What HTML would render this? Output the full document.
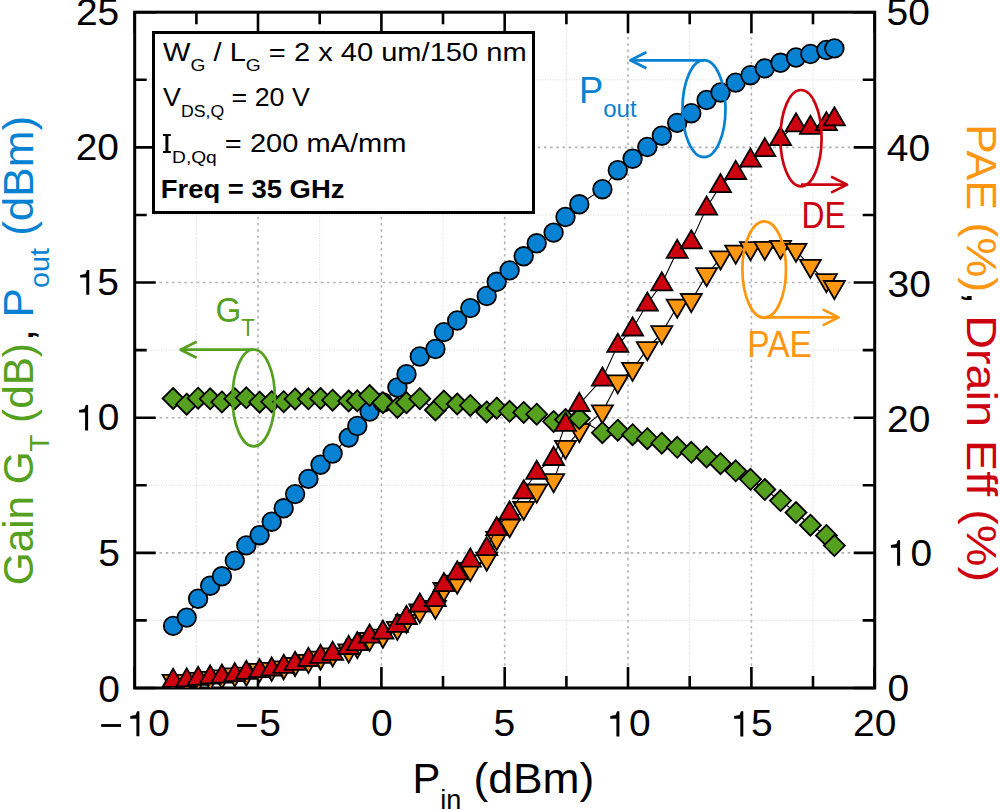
<!DOCTYPE html>
<html><head><meta charset="utf-8"><title>Power sweep</title>
<style>html,body{margin:0;padding:0;background:#fff;}svg{display:block;}text{font-family:"Liberation Sans",sans-serif;}</style></head><body>
<svg width="1000" height="810" viewBox="0 0 1000 810">
<rect width="1000" height="810" fill="#fff"/>
<style>.gM{stroke:#b2b2b2;stroke-width:1.6;stroke-dasharray:2.6 3.6;}.gm{stroke:#dadada;stroke-width:1;stroke-dasharray:1 1.4;}</style>
<g><line x1="196.4" y1="12.2" x2="196.4" y2="688.0" class="gm"/><line x1="258.0" y1="12.2" x2="258.0" y2="688.0" class="gM"/><line x1="319.7" y1="12.2" x2="319.7" y2="688.0" class="gm"/><line x1="381.4" y1="12.2" x2="381.4" y2="688.0" class="gM"/><line x1="443.0" y1="12.2" x2="443.0" y2="688.0" class="gm"/><line x1="504.7" y1="12.2" x2="504.7" y2="688.0" class="gM"/><line x1="566.4" y1="12.2" x2="566.4" y2="688.0" class="gm"/><line x1="628.0" y1="12.2" x2="628.0" y2="688.0" class="gM"/><line x1="689.7" y1="12.2" x2="689.7" y2="688.0" class="gm"/><line x1="751.4" y1="12.2" x2="751.4" y2="688.0" class="gM"/><line x1="813.0" y1="12.2" x2="813.0" y2="688.0" class="gm"/><line x1="134.7" y1="620.4" x2="874.7" y2="620.4" class="gm"/><line x1="134.7" y1="552.9" x2="874.7" y2="552.9" class="gM"/><line x1="134.7" y1="485.3" x2="874.7" y2="485.3" class="gm"/><line x1="134.7" y1="417.7" x2="874.7" y2="417.7" class="gM"/><line x1="134.7" y1="350.1" x2="874.7" y2="350.1" class="gm"/><line x1="134.7" y1="282.5" x2="874.7" y2="282.5" class="gM"/><line x1="134.7" y1="215.0" x2="874.7" y2="215.0" class="gm"/><line x1="134.7" y1="147.4" x2="874.7" y2="147.4" class="gM"/><line x1="134.7" y1="79.8" x2="874.7" y2="79.8" class="gm"/></g>
<path d="M134.7 688.0V667.0M134.7 12.2V33.2M196.4 688.0V676.0M196.4 12.2V24.2M258.0 688.0V667.0M258.0 12.2V33.2M319.7 688.0V676.0M319.7 12.2V24.2M381.4 688.0V667.0M381.4 12.2V33.2M443.0 688.0V676.0M443.0 12.2V24.2M504.7 688.0V667.0M504.7 12.2V33.2M566.4 688.0V676.0M566.4 12.2V24.2M628.0 688.0V667.0M628.0 12.2V33.2M689.7 688.0V676.0M689.7 12.2V24.2M751.4 688.0V667.0M751.4 12.2V33.2M813.0 688.0V676.0M813.0 12.2V24.2M874.7 688.0V667.0M874.7 12.2V33.2M134.7 688.0H155.7M874.7 688.0H853.7M134.7 620.4H146.7M874.7 620.4H862.7M134.7 552.9H155.7M874.7 552.9H853.7M134.7 485.3H146.7M874.7 485.3H862.7M134.7 417.7H155.7M874.7 417.7H853.7M134.7 350.1H146.7M874.7 350.1H862.7M134.7 282.5H155.7M874.7 282.5H853.7M134.7 215.0H146.7M874.7 215.0H862.7M134.7 147.4H155.7M874.7 147.4H853.7M134.7 79.8H146.7M874.7 79.8H862.7M134.7 12.2H155.7M874.7 12.2H853.7" stroke="#000" stroke-width="2.6" fill="none"/>
<rect x="134.7" y="12.2" width="740.0" height="675.8" fill="none" stroke="#000" stroke-width="3"/>
<defs><clipPath id="pc"><rect x="134.7" y="12.2" width="740.0" height="675.8"/></clipPath></defs>
<g clip-path="url(#pc)">
<polyline points="173.1,625.9 186.7,617.6 198.1,598.7 210.2,585.7 221.9,576.3 234.8,560.6 246.3,545.4 259.6,535.2 271.7,521.7 283.7,508.3 295.1,494.1 308.4,478.9 320.5,464.7 332.6,453.5 348.7,437.6 357.3,426.0 369.6,411.5 382.9,402.5 397.4,387.5 406.5,374.2 419.8,356.5 435.4,349.0 443.9,332.1 457.2,320.5 470.3,308.1 486.7,296.0 496.7,281.8 509.6,270.4 523.7,256.3 536.7,243.3 553.6,232.6 565.5,217.0 579.3,204.3 602.4,189.2 617.8,170.2 632.6,158.7 647.3,147.0 661.8,135.7 677.2,122.9 691.3,113.2 706.6,100.0 720.5,92.5 735.7,82.6 750.5,75.2 764.8,68.4 780.5,62.8 796.0,57.5 810.4,54.0 826.4,50.0 834.4,48.4" fill="none" stroke="#000" stroke-width="1.1"/>
<g fill="#0782d2" stroke="#000" stroke-width="1.8"><circle cx="173.1" cy="625.9" r="9.3"/><circle cx="186.7" cy="617.6" r="9.3"/><circle cx="198.1" cy="598.7" r="9.3"/><circle cx="210.2" cy="585.7" r="9.3"/><circle cx="221.9" cy="576.3" r="9.3"/><circle cx="234.8" cy="560.6" r="9.3"/><circle cx="246.3" cy="545.4" r="9.3"/><circle cx="259.6" cy="535.2" r="9.3"/><circle cx="271.7" cy="521.7" r="9.3"/><circle cx="283.7" cy="508.3" r="9.3"/><circle cx="295.1" cy="494.1" r="9.3"/><circle cx="308.4" cy="478.9" r="9.3"/><circle cx="320.5" cy="464.7" r="9.3"/><circle cx="332.6" cy="453.5" r="9.3"/><circle cx="348.7" cy="437.6" r="9.3"/><circle cx="357.3" cy="426.0" r="9.3"/><circle cx="369.6" cy="411.5" r="9.3"/><circle cx="382.9" cy="402.5" r="9.3"/><circle cx="397.4" cy="387.5" r="9.3"/><circle cx="406.5" cy="374.2" r="9.3"/><circle cx="419.8" cy="356.5" r="9.3"/><circle cx="435.4" cy="349.0" r="9.3"/><circle cx="443.9" cy="332.1" r="9.3"/><circle cx="457.2" cy="320.5" r="9.3"/><circle cx="470.3" cy="308.1" r="9.3"/><circle cx="486.7" cy="296.0" r="9.3"/><circle cx="496.7" cy="281.8" r="9.3"/><circle cx="509.6" cy="270.4" r="9.3"/><circle cx="523.7" cy="256.3" r="9.3"/><circle cx="536.7" cy="243.3" r="9.3"/><circle cx="553.6" cy="232.6" r="9.3"/><circle cx="565.5" cy="217.0" r="9.3"/><circle cx="579.3" cy="204.3" r="9.3"/><circle cx="602.4" cy="189.2" r="9.3"/><circle cx="617.8" cy="170.2" r="9.3"/><circle cx="632.6" cy="158.7" r="9.3"/><circle cx="647.3" cy="147.0" r="9.3"/><circle cx="661.8" cy="135.7" r="9.3"/><circle cx="677.2" cy="122.9" r="9.3"/><circle cx="691.3" cy="113.2" r="9.3"/><circle cx="706.6" cy="100.0" r="9.3"/><circle cx="720.5" cy="92.5" r="9.3"/><circle cx="735.7" cy="82.6" r="9.3"/><circle cx="750.5" cy="75.2" r="9.3"/><circle cx="764.8" cy="68.4" r="9.3"/><circle cx="780.5" cy="62.8" r="9.3"/><circle cx="796.0" cy="57.5" r="9.3"/><circle cx="810.4" cy="54.0" r="9.3"/><circle cx="826.4" cy="50.0" r="9.3"/><circle cx="834.4" cy="48.4" r="9.3"/></g>
<polyline points="173.1,681.6 186.7,681.6 198.1,679.6 210.2,678.6 221.9,677.1 234.8,675.1 246.3,674.4 259.6,670.6 271.7,669.6 283.7,668.1 295.1,664.8 308.4,661.7 320.5,658.5 332.6,655.2 348.7,651.3 357.3,646.8 369.6,639.6 382.9,636.4 397.4,628.6 406.5,621.6 419.8,611.3 435.4,607.6 443.9,589.8 457.2,582.4 470.3,569.8 486.7,559.5 496.7,538.7 509.6,525.9 523.7,508.6 536.7,491.3 553.6,480.9 565.5,447.6 579.3,430.9 602.4,412.1 617.8,382.1 632.6,369.6 647.3,348.9 661.8,332.9 677.2,306.4 691.3,300.8 706.6,274.9 720.5,258.2 735.7,252.4 750.5,249.0 764.8,248.6 780.5,247.6 796.0,250.6 810.4,266.6 826.4,281.0 834.4,287.8" fill="none" stroke="#000" stroke-width="1.1"/>
<g fill="#ff960f" stroke="#000" stroke-width="1.8" stroke-linejoin="miter"><path d="M173.1 692.9L183.6 674.8L162.6 674.8Z"/><path d="M186.7 692.9L197.2 674.8L176.2 674.8Z"/><path d="M198.1 690.9L208.6 672.8L187.6 672.8Z"/><path d="M210.2 689.9L220.7 671.8L199.7 671.8Z"/><path d="M221.9 688.4L232.4 670.3L211.4 670.3Z"/><path d="M234.8 686.4L245.3 668.3L224.3 668.3Z"/><path d="M246.3 685.7L256.8 667.6L235.8 667.6Z"/><path d="M259.6 681.9L270.1 663.8L249.1 663.8Z"/><path d="M271.7 680.9L282.2 662.8L261.2 662.8Z"/><path d="M283.7 679.4L294.2 661.3L273.2 661.3Z"/><path d="M295.1 676.1L305.6 658.0L284.6 658.0Z"/><path d="M308.4 673.0L318.9 654.9L297.9 654.9Z"/><path d="M320.5 669.8L331.0 651.7L310.0 651.7Z"/><path d="M332.6 666.5L343.1 648.4L322.1 648.4Z"/><path d="M348.7 662.6L359.2 644.5L338.2 644.5Z"/><path d="M357.3 658.1L367.8 640.0L346.8 640.0Z"/><path d="M369.6 650.9L380.1 632.8L359.1 632.8Z"/><path d="M382.9 647.7L393.4 629.6L372.4 629.6Z"/><path d="M397.4 639.9L407.9 621.8L386.9 621.8Z"/><path d="M406.5 632.9L417.0 614.8L396.0 614.8Z"/><path d="M419.8 622.6L430.3 604.5L409.3 604.5Z"/><path d="M435.4 618.9L445.9 600.8L424.9 600.8Z"/><path d="M443.9 601.1L454.4 583.0L433.4 583.0Z"/><path d="M457.2 593.7L467.7 575.6L446.7 575.6Z"/><path d="M470.3 581.1L480.8 563.0L459.8 563.0Z"/><path d="M486.7 570.8L497.2 552.7L476.2 552.7Z"/><path d="M496.7 550.0L507.2 531.9L486.2 531.9Z"/><path d="M509.6 537.2L520.1 519.1L499.1 519.1Z"/><path d="M523.7 519.9L534.2 501.8L513.2 501.8Z"/><path d="M536.7 502.6L547.2 484.5L526.2 484.5Z"/><path d="M553.6 492.2L564.1 474.1L543.1 474.1Z"/><path d="M565.5 458.9L576.0 440.8L555.0 440.8Z"/><path d="M579.3 442.2L589.8 424.1L568.8 424.1Z"/><path d="M602.4 423.4L612.9 405.3L591.9 405.3Z"/><path d="M617.8 393.4L628.3 375.3L607.3 375.3Z"/><path d="M632.6 380.9L643.1 362.8L622.1 362.8Z"/><path d="M647.3 360.2L657.8 342.1L636.8 342.1Z"/><path d="M661.8 344.2L672.3 326.1L651.3 326.1Z"/><path d="M677.2 317.7L687.7 299.6L666.7 299.6Z"/><path d="M691.3 312.1L701.8 294.0L680.8 294.0Z"/><path d="M706.6 286.2L717.1 268.1L696.1 268.1Z"/><path d="M720.5 269.5L731.0 251.4L710.0 251.4Z"/><path d="M735.7 263.7L746.2 245.6L725.2 245.6Z"/><path d="M750.5 260.3L761.0 242.2L740.0 242.2Z"/><path d="M764.8 259.9L775.3 241.8L754.3 241.8Z"/><path d="M780.5 258.9L791.0 240.8L770.0 240.8Z"/><path d="M796.0 261.9L806.5 243.8L785.5 243.8Z"/><path d="M810.4 277.9L820.9 259.8L799.9 259.8Z"/><path d="M826.4 292.3L836.9 274.2L815.9 274.2Z"/><path d="M834.4 299.1L844.9 281.0L823.9 281.0Z"/></g>
<polyline points="173.1,398.5 186.7,404.2 198.1,398.2 210.2,398.8 221.9,401.9 234.8,398.7 246.3,397.8 259.6,402.2 271.7,401.7 283.7,401.7 295.1,399.0 308.4,398.8 320.5,398.5 332.6,400.2 348.7,401.0 357.3,400.8 369.6,395.5 382.9,402.7 397.4,407.5 406.5,402.7 419.8,398.7 435.4,410.0 443.9,401.1 457.2,404.0 470.3,405.4 486.7,411.9 496.7,408.2 509.6,411.3 523.7,412.4 536.7,414.2 553.6,421.4 565.5,419.5 579.3,418.5 602.4,432.7 617.8,430.2 632.6,434.7 647.3,438.7 661.8,443.2 677.2,447.3 691.3,452.3 706.6,456.9 720.5,463.7 735.7,470.8 750.5,479.3 764.8,489.5 780.5,500.6 796.0,512.5 810.4,525.2 826.4,535.4 834.4,545.6" fill="none" stroke="#000" stroke-width="1.1"/>
<g fill="#55a01e" stroke="#000" stroke-width="1.8"><path d="M173.1 388.0L183.6 398.5L173.1 409.0L162.6 398.5Z"/><path d="M186.7 393.7L197.2 404.2L186.7 414.7L176.2 404.2Z"/><path d="M198.1 387.7L208.6 398.2L198.1 408.7L187.6 398.2Z"/><path d="M210.2 388.3L220.7 398.8L210.2 409.3L199.7 398.8Z"/><path d="M221.9 391.4L232.4 401.9L221.9 412.4L211.4 401.9Z"/><path d="M234.8 388.2L245.3 398.7L234.8 409.2L224.3 398.7Z"/><path d="M246.3 387.3L256.8 397.8L246.3 408.3L235.8 397.8Z"/><path d="M259.6 391.7L270.1 402.2L259.6 412.7L249.1 402.2Z"/><path d="M271.7 391.2L282.2 401.7L271.7 412.2L261.2 401.7Z"/><path d="M283.7 391.2L294.2 401.7L283.7 412.2L273.2 401.7Z"/><path d="M295.1 388.5L305.6 399.0L295.1 409.5L284.6 399.0Z"/><path d="M308.4 388.3L318.9 398.8L308.4 409.3L297.9 398.8Z"/><path d="M320.5 388.0L331.0 398.5L320.5 409.0L310.0 398.5Z"/><path d="M332.6 389.7L343.1 400.2L332.6 410.7L322.1 400.2Z"/><path d="M348.7 390.5L359.2 401.0L348.7 411.5L338.2 401.0Z"/><path d="M357.3 390.3L367.8 400.8L357.3 411.3L346.8 400.8Z"/><path d="M369.6 385.0L380.1 395.5L369.6 406.0L359.1 395.5Z"/><path d="M382.9 392.2L393.4 402.7L382.9 413.2L372.4 402.7Z"/><path d="M397.4 397.0L407.9 407.5L397.4 418.0L386.9 407.5Z"/><path d="M406.5 392.2L417.0 402.7L406.5 413.2L396.0 402.7Z"/><path d="M419.8 388.2L430.3 398.7L419.8 409.2L409.3 398.7Z"/><path d="M435.4 399.5L445.9 410.0L435.4 420.5L424.9 410.0Z"/><path d="M443.9 390.6L454.4 401.1L443.9 411.6L433.4 401.1Z"/><path d="M457.2 393.5L467.7 404.0L457.2 414.5L446.7 404.0Z"/><path d="M470.3 394.9L480.8 405.4L470.3 415.9L459.8 405.4Z"/><path d="M486.7 401.4L497.2 411.9L486.7 422.4L476.2 411.9Z"/><path d="M496.7 397.7L507.2 408.2L496.7 418.7L486.2 408.2Z"/><path d="M509.6 400.8L520.1 411.3L509.6 421.8L499.1 411.3Z"/><path d="M523.7 401.9L534.2 412.4L523.7 422.9L513.2 412.4Z"/><path d="M536.7 403.7L547.2 414.2L536.7 424.7L526.2 414.2Z"/><path d="M553.6 410.9L564.1 421.4L553.6 431.9L543.1 421.4Z"/><path d="M565.5 409.0L576.0 419.5L565.5 430.0L555.0 419.5Z"/><path d="M579.3 408.0L589.8 418.5L579.3 429.0L568.8 418.5Z"/><path d="M602.4 422.2L612.9 432.7L602.4 443.2L591.9 432.7Z"/><path d="M617.8 419.7L628.3 430.2L617.8 440.7L607.3 430.2Z"/><path d="M632.6 424.2L643.1 434.7L632.6 445.2L622.1 434.7Z"/><path d="M647.3 428.2L657.8 438.7L647.3 449.2L636.8 438.7Z"/><path d="M661.8 432.7L672.3 443.2L661.8 453.7L651.3 443.2Z"/><path d="M677.2 436.8L687.7 447.3L677.2 457.8L666.7 447.3Z"/><path d="M691.3 441.8L701.8 452.3L691.3 462.8L680.8 452.3Z"/><path d="M706.6 446.4L717.1 456.9L706.6 467.4L696.1 456.9Z"/><path d="M720.5 453.2L731.0 463.7L720.5 474.2L710.0 463.7Z"/><path d="M735.7 460.3L746.2 470.8L735.7 481.3L725.2 470.8Z"/><path d="M750.5 468.8L761.0 479.3L750.5 489.8L740.0 479.3Z"/><path d="M764.8 479.0L775.3 489.5L764.8 500.0L754.3 489.5Z"/><path d="M780.5 490.1L791.0 500.6L780.5 511.1L770.0 500.6Z"/><path d="M796.0 502.0L806.5 512.5L796.0 523.0L785.5 512.5Z"/><path d="M810.4 514.7L820.9 525.2L810.4 535.7L799.9 525.2Z"/><path d="M826.4 524.9L836.9 535.4L826.4 545.9L815.9 535.4Z"/><path d="M834.4 535.1L844.9 545.6L834.4 556.1L823.9 545.6Z"/></g>
<polyline points="173.1,680.1 186.7,679.7 198.1,678.0 210.2,676.7 221.9,675.8 234.8,674.4 246.3,672.0 259.6,670.4 271.7,668.7 283.7,666.0 295.1,663.0 308.4,659.2 320.5,656.0 332.6,653.0 348.7,647.2 357.3,643.4 369.6,635.8 382.9,631.9 397.4,625.1 406.5,617.2 419.8,604.8 435.4,599.4 443.9,584.3 457.2,572.6 470.3,559.8 486.7,548.4 496.7,528.4 509.6,512.7 523.7,491.6 536.7,472.0 553.6,458.2 565.5,424.1 579.3,404.2 602.4,378.8 617.8,345.1 632.6,328.7 647.3,303.8 661.8,283.6 677.2,251.1 691.3,241.5 706.6,207.8 720.5,185.4 735.7,172.2 750.5,159.9 764.8,149.4 780.5,138.3 796.0,124.5 810.4,127.0 826.4,123.4 834.4,118.6" fill="none" stroke="#000" stroke-width="1.1"/>
<g fill="#cd000f" stroke="#000" stroke-width="1.8" stroke-linejoin="miter"><path d="M173.1 668.8L183.6 686.9L162.6 686.9Z"/><path d="M186.7 668.4L197.2 686.5L176.2 686.5Z"/><path d="M198.1 666.7L208.6 684.8L187.6 684.8Z"/><path d="M210.2 665.4L220.7 683.5L199.7 683.5Z"/><path d="M221.9 664.5L232.4 682.6L211.4 682.6Z"/><path d="M234.8 663.1L245.3 681.2L224.3 681.2Z"/><path d="M246.3 660.7L256.8 678.8L235.8 678.8Z"/><path d="M259.6 659.1L270.1 677.2L249.1 677.2Z"/><path d="M271.7 657.4L282.2 675.5L261.2 675.5Z"/><path d="M283.7 654.7L294.2 672.8L273.2 672.8Z"/><path d="M295.1 651.7L305.6 669.8L284.6 669.8Z"/><path d="M308.4 647.9L318.9 666.0L297.9 666.0Z"/><path d="M320.5 644.7L331.0 662.8L310.0 662.8Z"/><path d="M332.6 641.7L343.1 659.8L322.1 659.8Z"/><path d="M348.7 635.9L359.2 654.0L338.2 654.0Z"/><path d="M357.3 632.1L367.8 650.2L346.8 650.2Z"/><path d="M369.6 624.5L380.1 642.6L359.1 642.6Z"/><path d="M382.9 620.6L393.4 638.7L372.4 638.7Z"/><path d="M397.4 613.8L407.9 631.9L386.9 631.9Z"/><path d="M406.5 605.9L417.0 624.0L396.0 624.0Z"/><path d="M419.8 593.5L430.3 611.6L409.3 611.6Z"/><path d="M435.4 588.1L445.9 606.2L424.9 606.2Z"/><path d="M443.9 573.0L454.4 591.1L433.4 591.1Z"/><path d="M457.2 561.3L467.7 579.4L446.7 579.4Z"/><path d="M470.3 548.5L480.8 566.6L459.8 566.6Z"/><path d="M486.7 537.1L497.2 555.2L476.2 555.2Z"/><path d="M496.7 517.1L507.2 535.2L486.2 535.2Z"/><path d="M509.6 501.4L520.1 519.5L499.1 519.5Z"/><path d="M523.7 480.3L534.2 498.4L513.2 498.4Z"/><path d="M536.7 460.7L547.2 478.8L526.2 478.8Z"/><path d="M553.6 446.9L564.1 465.0L543.1 465.0Z"/><path d="M565.5 412.8L576.0 430.9L555.0 430.9Z"/><path d="M579.3 392.9L589.8 411.0L568.8 411.0Z"/><path d="M602.4 367.5L612.9 385.6L591.9 385.6Z"/><path d="M617.8 333.8L628.3 351.9L607.3 351.9Z"/><path d="M632.6 317.4L643.1 335.5L622.1 335.5Z"/><path d="M647.3 292.5L657.8 310.6L636.8 310.6Z"/><path d="M661.8 272.3L672.3 290.4L651.3 290.4Z"/><path d="M677.2 239.8L687.7 257.9L666.7 257.9Z"/><path d="M691.3 230.2L701.8 248.3L680.8 248.3Z"/><path d="M706.6 196.5L717.1 214.6L696.1 214.6Z"/><path d="M720.5 174.1L731.0 192.2L710.0 192.2Z"/><path d="M735.7 160.9L746.2 179.0L725.2 179.0Z"/><path d="M750.5 148.6L761.0 166.7L740.0 166.7Z"/><path d="M764.8 138.1L775.3 156.2L754.3 156.2Z"/><path d="M780.5 127.0L791.0 145.1L770.0 145.1Z"/><path d="M796.0 113.2L806.5 131.3L785.5 131.3Z"/><path d="M810.4 115.7L820.9 133.8L799.9 133.8Z"/><path d="M826.4 112.1L836.9 130.2L815.9 130.2Z"/><path d="M834.4 107.3L844.9 125.4L823.9 125.4Z"/></g>
</g>
<rect x="153.5" y="32.5" width="380" height="180" fill="#fff" stroke="#000" stroke-width="3"/>
<g stroke="#0782d2" stroke-width="2.7" fill="none" stroke-linejoin="round"><ellipse cx="704" cy="108.7" rx="21.5" ry="48.5"/><path d="M704 60.3H630.4"/><path d="M646.4 52.3L630.4 60.3L646.4 68.3"/></g>
<g stroke="#cd000f" stroke-width="2.7" fill="none" stroke-linejoin="round"><ellipse cx="801" cy="138.2" rx="20.6" ry="48.2"/><path d="M801 184.6H847.1"/><path d="M831.1 176.6L847.1 184.6L831.1 192.6"/></g>
<g stroke="#ff960f" stroke-width="2.7" fill="none" stroke-linejoin="round"><ellipse cx="764.2" cy="269.5" rx="21.8" ry="48.2"/><path d="M764 317.4H838.7"/><path d="M822.7 309.4L838.7 317.4L822.7 325.4"/></g>
<g stroke="#55a01e" stroke-width="2.7" fill="none" stroke-linejoin="round"><ellipse cx="253.7" cy="397.9" rx="21.2" ry="48.4"/><path d="M253.5 349.7H180.6"/><path d="M196.6 341.7L180.6 349.7L196.6 357.7"/></g>
<path d="M163 134h7.8v2h-7.8zM165.4 134h3v18.8h-3zM163 150.9h7.8v2h-7.8z" fill="#000"/>
<text transform="translate(163.00,60.60) scale(1.1640,1.0000)" font-size="25" fill="#000">W<tspan font-size="16.5" dy="10.5">G</tspan><tspan dy="-10.5"> / L</tspan><tspan font-size="16.5" dy="10.5">G</tspan><tspan dy="-10.5"> = 2 x 40 um/150 nm</tspan></text>
<text transform="translate(163.00,106.00) scale(1.0730,1.0000)" font-size="25" fill="#000">V<tspan font-size="16.5" dy="10.5">DS,Q</tspan><tspan dy="-10.5"> = 20 V</tspan></text>
<text transform="translate(172.04,152.40) scale(1.1623,1.0000)" font-size="25" fill="#000"><tspan font-size="16.5" dy="10.5">D,Qq</tspan><tspan dy="-10.5"> = 200 mA/mm</tspan></text>
<text transform="translate(160.81,198.00) scale(1.0970,1.0000)" font-size="25" font-weight="bold" fill="#000">Freq = 35 GHz</text>
<text transform="translate(412.42,793.00) scale(0.9689,1.0000)" font-size="43" fill="#000">P<tspan font-size="28" dy="15.8">in</tspan></text>
<text transform="translate(473.51,793.00) scale(1.0312,1.0000)" font-size="43" fill="#000">(dBm)</text>
<text transform="translate(33.00,585.16) rotate(-90) scale(0.9818,1.0000)" font-size="43" fill="#55a01e">Gain G<tspan font-size="28" dy="15.5">T</tspan><tspan dy="-15.5"> (dB)</tspan></text>
<text transform="translate(33.00,340.90) rotate(-90) scale(1.0000,1.0000)" font-size="43" fill="#000">,</text>
<text transform="translate(33.00,317.40) rotate(-90) scale(1.0253,1.0000)" font-size="43" fill="#0782d2">P<tspan font-size="28" dy="16">out</tspan><tspan dy="-16"> (dBm)</tspan></text>
<text transform="translate(967.00,124.04) rotate(90) scale(1.0394,1.0000)" font-size="43" fill="#ff960f">PAE (%)</text>
<text transform="translate(967.00,292.00) rotate(90) scale(1.0000,1.0000)" font-size="43" fill="#000">,</text>
<text transform="translate(967.00,315.15) rotate(90) scale(1.0883,1.0000)" font-size="43" fill="#cd000f">Drain Eff (%)</text>
<text transform="translate(579.06,102.50) scale(0.9804,1.0000)" font-size="37" fill="#0782d2">P<tspan font-size="24.5" dy="14">out</tspan></text>
<text transform="translate(801.48,228.00) scale(0.8717,1.0000)" font-size="36.5" fill="#cd000f">DE</text>
<text transform="translate(747.19,357.00) scale(0.9354,1.0000)" font-size="36" fill="#ff960f">PAE</text>
<text transform="translate(215.46,322.30) scale(0.9200,1.0000)" font-size="36" fill="#55a01e">G<tspan font-size="24" dy="14">T</tspan></text>
<text transform="translate(98.32,701.60) scale(1.0526,1)" font-size="37">0</text>
<text transform="translate(98.15,566.10) scale(1.0526,1)" font-size="37">5</text>
<text transform="translate(97.75,430.30) scale(1.0526,1)" font-size="37">0</text>
<text transform="translate(97.25,294.55) scale(1.0526,1)" font-size="37">5</text>
<text transform="translate(75.69,160.00) scale(1.0526,1)" font-size="37">20</text>
<text transform="translate(75.89,24.90) scale(1.0526,1)" font-size="37">25</text>
<text transform="translate(887.57,701.00) scale(1.0526,1)" font-size="37">0</text>
<text transform="translate(910.40,565.60) scale(1.0526,1)" font-size="37">0</text>
<text transform="translate(886.99,432.00) scale(1.0526,1)" font-size="37">20</text>
<text transform="translate(887.52,296.95) scale(1.0526,1)" font-size="37">30</text>
<text transform="translate(886.77,160.85) scale(1.0526,1)" font-size="37">40</text>
<text transform="translate(886.54,24.90) scale(1.0526,1)" font-size="37">50</text>
<rect x="101.2" y="724.1" width="19.8" height="2.8" fill="#000"/>
<text transform="translate(148.20,736.00) scale(1.0526,1)" font-size="37">0</text>
<rect x="237.1" y="724.1" width="19.6" height="2.8" fill="#000"/>
<text transform="translate(259.20,735.90) scale(1.0526,1)" font-size="37">5</text>
<text transform="translate(371.07,735.90) scale(1.0526,1)" font-size="37">0</text>
<text transform="translate(493.55,735.90) scale(1.0526,1)" font-size="37">5</text>
<text transform="translate(629.00,736.20) scale(1.0526,1)" font-size="37">0</text>
<text transform="translate(751.00,736.20) scale(1.0526,1)" font-size="37">5</text>
<text transform="translate(853.09,735.90) scale(1.0526,1)" font-size="37">20</text>
<path d="M79.00 409.90L84.30 408.90L85.80 405.00L88.10 405.00L88.10 430.50L85.10 430.50L85.10 412.50L79.00 412.50ZM80.15 274.90L85.45 273.90L86.95 270.00L89.25 270.00L89.25 294.75L86.25 294.75L86.25 277.50L80.15 277.50ZM891.00 545.10L896.30 544.10L897.80 540.20L900.10 540.20L900.10 565.80L897.10 565.80L897.10 547.70L891.00 547.70ZM130.30 716.10L135.60 715.10L137.10 711.20L139.40 711.20L139.40 736.20L136.40 736.20L136.40 718.70L130.30 718.70ZM610.30 716.10L615.60 715.10L617.10 711.20L619.40 711.20L619.40 736.40L616.40 736.40L616.40 718.70L610.30 718.70ZM734.20 716.10L739.50 715.10L741.00 711.20L743.30 711.20L743.30 736.40L740.30 736.40L740.30 718.70L734.20 718.70Z" fill="#000"/>
</svg></body></html>
